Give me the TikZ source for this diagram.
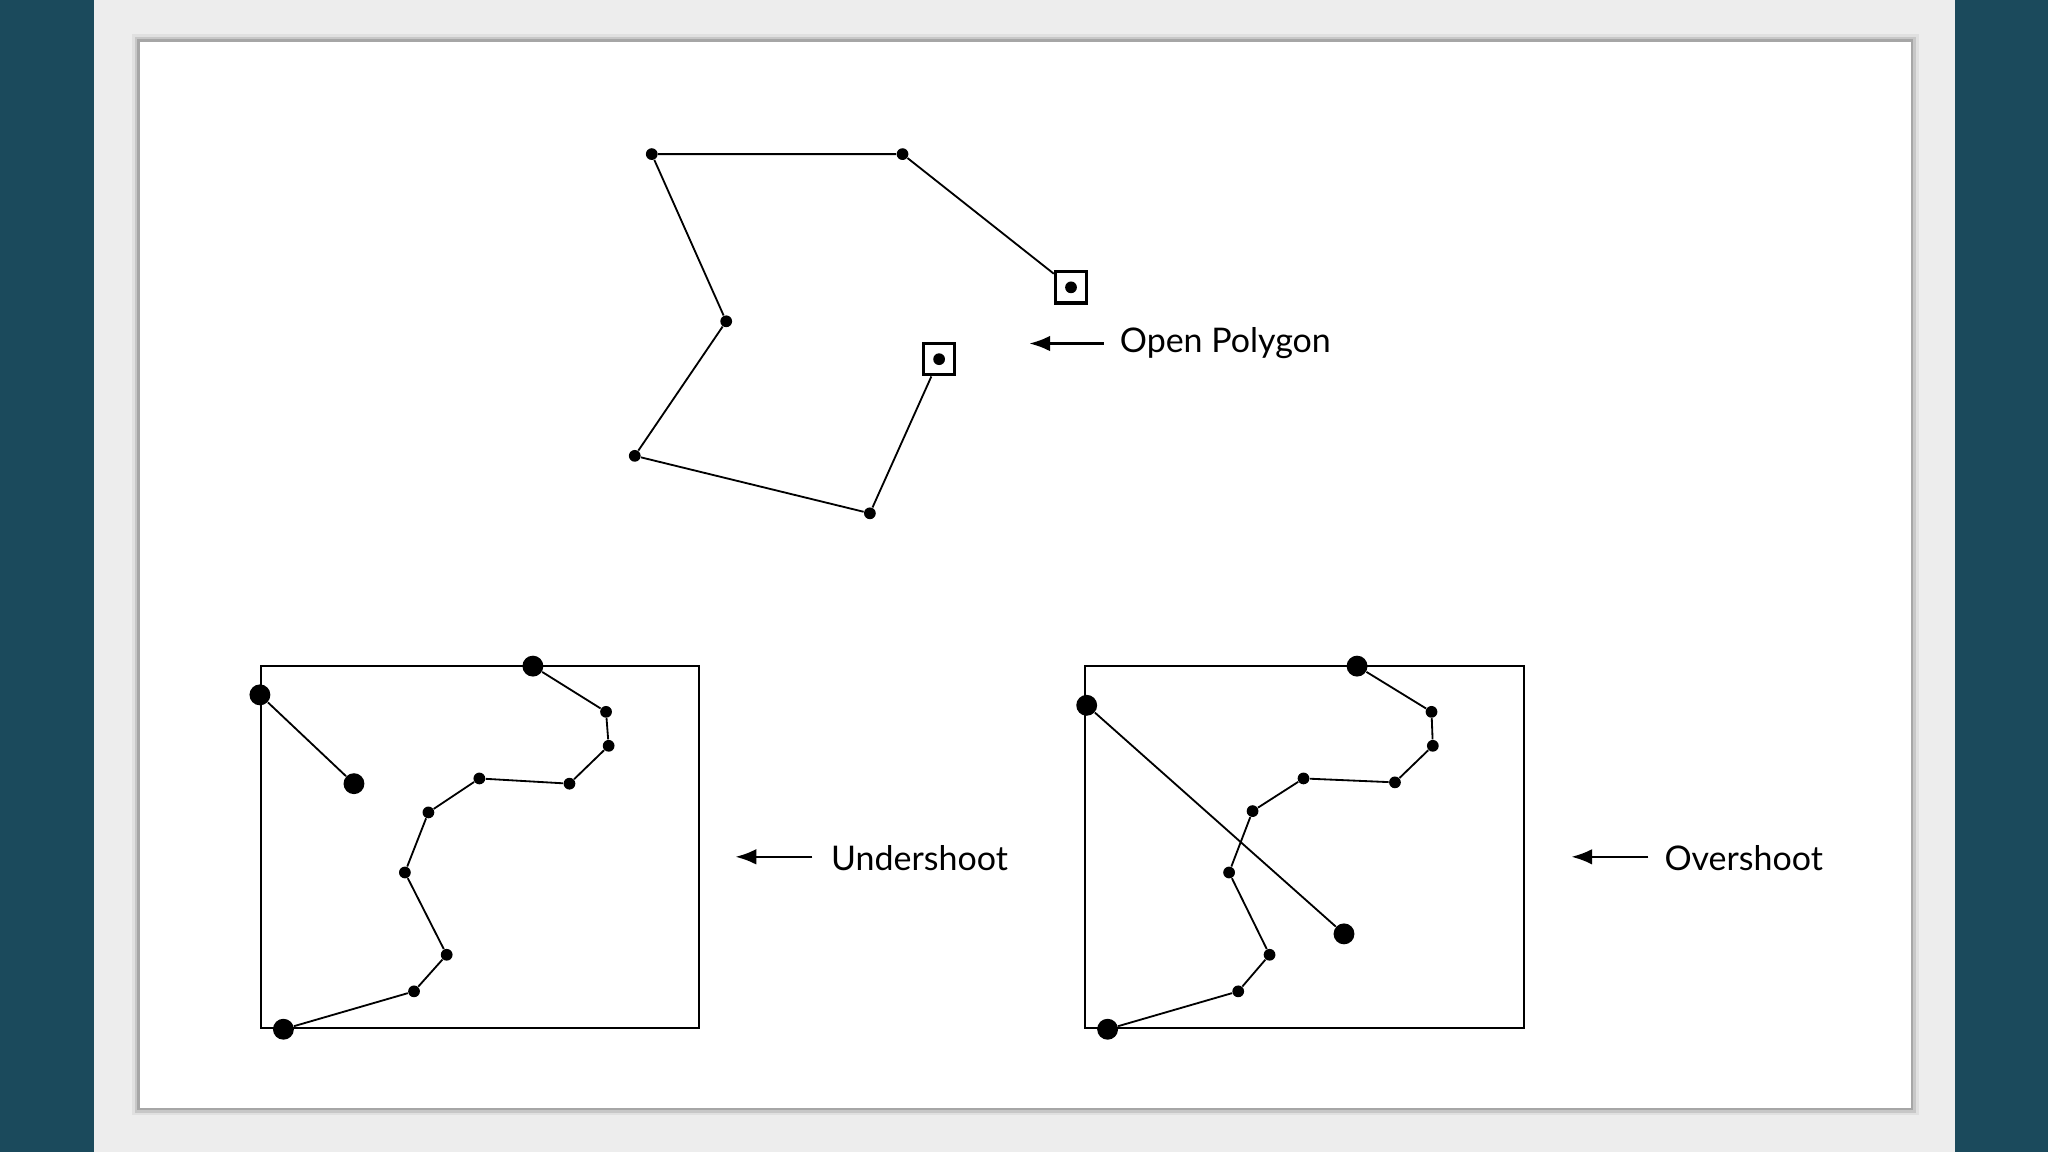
\documentclass[tikz,border=0pt]{standalone}
\usepackage{fontspec}
\setmainfont{Lato}
\usetikzlibrary{arrows.meta}
\definecolor{teal}{HTML}{1B4A5C}
\definecolor{panel}{HTML}{EDEDED}
\tikzset{
  sd/.style={circle,fill=black,inner sep=0pt,minimum size=9*0.5pt},
  bd/.style={circle,fill=black,inner sep=0pt,minimum size=16*0.5pt},
  sq/.style={draw,line width=1.2pt,minimum size=24*0.5pt,inner sep=0pt},
  ln/.style={line width=0.7pt},
  arr/.style={line width=1pt,-{Latex[length=8pt,width=6pt]}},
  lbl/.style={anchor=west,font=\fontsize{13}{15}\selectfont,inner sep=0pt}
}
\begin{document}
\begin{tikzpicture}[x=0.5pt,y=-0.5pt]
\useasboundingbox (0,0) rectangle (1568,882);
\fill[teal] (0,0) rectangle (1568,882);
\fill[panel] (72,0) rectangle (1497,882);
\fill[black!12] (101,26) rectangle (1469,854);
\fill[black!22] (103,28) rectangle (1467,852);
\fill[black!35] (105,30) rectangle (1465,850);
\fill[white] (107,32) rectangle (1463,848);
% open polygon
\node[sd] (a1) at (691,118) {};
\node[sd] (a2) at (499,118) {};
\node[sd] (a3) at (556,246) {};
\node[sd] (a4) at (486,349) {};
\node[sd] (a5) at (666,393) {};
\node[sq] (s1) at (820,220) {};
\node[sd] (e1) at (820,220) {};
\node[sq] (s2) at (719,275) {};
\node[sd] (e2) at (719,275) {};
\draw[ln] (s1) -- (a1) -- (a2) -- (a3) -- (a4) -- (a5) -- (s2);
\node[lbl] (t1) at (857,263) {Open Polygon};
\coordinate (t1s) at (845,263);
\coordinate (t1e) at (788,263);
\draw[arr] (t1s) -- (t1e);
% undershoot
\draw[ln] (200,510) rectangle (535,787);
\node[bd] (u0) at (199,532) {};
\node[bd] (u1) at (271,600) {};
\draw[ln] (u0) -- (u1);
\node[bd] (c0) at (408,510) {};
\node[sd] (c1) at (464,545) {};
\node[sd] (c2) at (466,571) {};
\node[sd] (c3) at (436,600) {};
\node[sd] (c4) at (367,596) {};
\node[sd] (c5) at (328,622) {};
\node[sd] (c6) at (310,668) {};
\node[sd] (c7) at (342,731) {};
\node[sd] (c8) at (317,759) {};
\node[bd] (c9) at (217,788) {};
\draw[ln] (c0)--(c1)--(c2)--(c3)--(c4)--(c5)--(c6)--(c7)--(c8)--(c9);
\node[lbl] (t2) at (636,657) {Undershoot};
\coordinate (t2s) at (622,656);
\coordinate (t2e) at (563,656);
\draw[arr] (t2s) -- (t2e);
% overshoot
\draw[ln] (831,510) rectangle (1167,787);
\node[bd] (o0) at (832,540) {};
\node[bd] (o1) at (1029,715) {};
\draw[ln] (o0) -- (o1);
\node[bd] (d0) at (1039,510) {};
\node[sd] (d1) at (1096,545) {};
\node[sd] (d2) at (1097,571) {};
\node[sd] (d3) at (1068,599) {};
\node[sd] (d4) at (998,596) {};
\node[sd] (d5) at (959,621) {};
\node[sd] (d6) at (941,668) {};
\node[sd] (d7) at (972,731) {};
\node[sd] (d8) at (948,759) {};
\node[bd] (d9) at (848,788) {};
\draw[ln] (d0)--(d1)--(d2)--(d3)--(d4)--(d5)--(d6)--(d7)--(d8)--(d9);
\node[lbl] (t3) at (1274,657) {Overshoot};
\coordinate (t3s) at (1262,656);
\coordinate (t3e) at (1203,656);
\draw[arr] (t3s) -- (t3e);
\end{tikzpicture}
\end{document}
